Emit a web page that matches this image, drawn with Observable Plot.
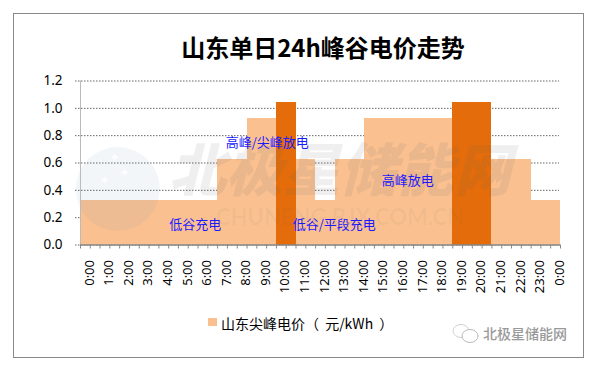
<!DOCTYPE html>
<html><head><meta charset="utf-8">
<script src="https://cdn.jsdelivr.net/npm/d3@7"></script>
<script src="https://cdn.jsdelivr.net/npm/@observablehq/plot@0.6"></script>
<style>
html,body{margin:0;padding:0;background:#fff}
#page{position:relative;width:602px;height:371px;overflow:hidden;font-family:"Noto Sans CJK SC","Noto Sans",sans-serif}
#frame{position:absolute;left:13px;top:13px;width:571px;height:345px;box-sizing:border-box;border:1px solid #888}
#title{position:absolute;left:0;top:29px;width:646px;text-align:center;font-size:24px;font-weight:700;line-height:36px;color:#000}
#chart{position:absolute;left:0;top:0}
#swatch{position:absolute;left:208px;top:318px;width:9px;height:8px;background:#fac090}
#legend{position:absolute;left:221px;top:313px;font-size:14px;line-height:20px;color:#000;white-space:nowrap;word-spacing:3px}
#mark{position:absolute;left:483px;top:323px;font-size:14px;line-height:20px;color:#999;font-weight:500;white-space:nowrap}
#logo{position:absolute;left:451px;top:322px}
</style></head><body>
<div id="page">
<div id="frame"></div>
<div id="chart"></div>
<div id="title">山东单日24h峰谷电价走势</div>
<div id="swatch"></div>
<div id="legend">山东尖峰电价（ 元/kWh ）</div>
<svg id="logo" width="30" height="24" viewBox="0 0 30 24"><ellipse cx="10" cy="9" rx="8" ry="6.5" fill="none" stroke="#d0d0d0"/><ellipse cx="19" cy="14" rx="8" ry="6.5" fill="#fff" stroke="#bbb"/></svg>
<div id="mark">北极星储能网</div>
</div>
<script>
const halfHours = ["0:00","0:30","1:00","1:30","2:00","2:30","3:00","3:30","4:00","4:30","5:00","5:30","6:00","6:30","7:00","7:30","8:00","8:30","9:00","9:30","10:00","10:30","11:00","11:30","12:00","12:30","13:00","13:30","14:00","14:30","15:00","15:30","16:00","16:30","17:00","17:30","18:00","18:30","19:00","19:30","20:00","20:30","21:00","21:30","22:00","22:30","23:00","23:30","0:00 "];
const prices = [0.324,0.324,0.324,0.324,0.324,0.324,0.324,0.324,0.324,0.324,0.324,0.324,0.324,0.324,0.624,0.624,0.624,0.924,0.924,0.924,1.041,1.041,0.624,0.624,0.324,0.324,0.624,0.624,0.624,0.924,0.924,0.924,0.924,0.924,0.924,0.924,0.924,0.924,1.041,1.041,1.041,1.041,0.624,0.624,0.624,0.624,0.324,0.324,0.324];
const hourLabels = ["0:00","1:00","2:00","3:00","4:00","5:00","6:00","7:00","8:00","9:00","10:00","11:00","12:00","13:00","14:00","15:00","16:00","17:00","18:00","19:00","20:00","21:00","22:00","23:00","0:00 "];
const yTicks = [0,0.2,0.4,0.6,0.8,1.0,1.2];
const sharpPrice = 1.041;
const rows = halfHours.map((t,i)=>({t,p:prices[i]}));
const note = (text,t,v,dx)=>Plot.text([text],{x:()=>t,y:()=>v,dx,text:d=>d,fill:"#1a1aff",fontSize:13,fontFamily:'"Noto Sans CJK SC"'});
const chart = Plot.plot({
  width:602,height:371,
  marginLeft:80,marginRight:42,marginTop:80.5,marginBottom:126.5,
  style:{background:"transparent",overflow:"visible"},
  x:{type:"band",domain:halfHours,padding:0,round:false,axis:null},
  y:{domain:[0,1.2],axis:null},
  marks:[
    Plot.ruleY(yTicks,{stroke:"#666",strokeWidth:1,strokeDasharray:"1.5 1.5",insetLeft:-5,insetRight:1}),
    Plot.barY(rows,{x:"t",y:"p",fill:d=>d.p===sharpPrice?"#e46c0a":"#fac090",shapeRendering:"crispEdges"}),
    // faint site watermark laid over the bars
    Plot.dot(["logo"],{x:()=>"1:30",y:()=>0.41,r:42,fill:"#5f86b0",fillOpacity:0.08,dx:3}),
    Plot.text(["✦","✦","✦"],{x:(d,i)=>["1:30","2:00","1:00"][i],y:(d,i)=>[0.64,0.53,0.47][i],text:d=>d,fill:"#fff",fontSize:13,fillOpacity:0.8}),
    Plot.text(["北极星储能网"],{x:()=>"13:00",y:()=>0.53,text:d=>d,fontSize:57,fontWeight:900,fontStyle:"italic",fill:"#666",fillOpacity:0.1,fontFamily:'"Noto Sans CJK SC"'}),
    Plot.text(["CHUNENG.BJX.COM.CN"],{x:()=>"13:00",y:()=>0.2,text:d=>d,fontSize:22,fontWeight:700,fill:"#666",fillOpacity:0.06,fontFamily:"Lato",style:{letterSpacing:"4px"}}),
    note("低谷充电","5:30",0.148,2),
    note("高峰/尖峰放电","9:00",0.748,5.5),
    note("低谷/平段充电","12:30",0.148,4),
    note("高峰放电","16:30",0.47,-1),
    Plot.ruleX([0],{x:()=>"0:00",dx:-4.9,stroke:"#bbb",strokeWidth:1,y1:0,y2:1.2}),
    Plot.ruleY([0],{stroke:"#888",strokeWidth:1.5}),
    Plot.axisY({ticks:yTicks,tickSize:0,tickPadding:18,tickFormat:d3.format(".1f"),label:null,fontSize:13.5,fontFamily:'"Noto Sans"',color:"#000",anchor:"left"}),
    Plot.axisX({ticks:halfHours,tickSize:4,tickFormat:()=>"",dx:-4.9,stroke:"#888",label:null,anchor:"bottom"}),
    Plot.axisX({ticks:["0:00 "],tickSize:4,tickFormat:()=>"",dx:4.9,stroke:"#888",label:null,anchor:"bottom"}),
    Plot.axisX({ticks:hourLabels,tickSize:0,tickPadding:15,tickRotate:-90,tickFormat:d=>d.trim(),dx:4,label:null,fontSize:13,fontFamily:'"Noto Sans"',color:"#000",anchor:"bottom"})
  ]
});
document.getElementById("chart").appendChild(chart);
</script>
</body></html>
